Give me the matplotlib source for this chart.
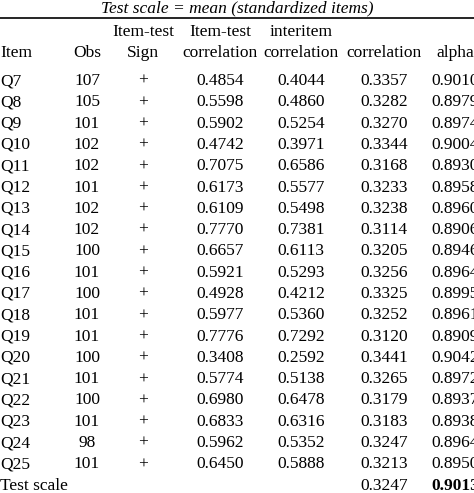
import matplotlib
matplotlib.use("Agg")
import matplotlib.pyplot as plt

items = ["Q7", "Q8", "Q9", "Q10", "Q11", "Q12", "Q13", "Q14", "Q15", "Q16",
         "Q17", "Q18", "Q19", "Q20", "Q21", "Q22", "Q23", "Q24", "Q25"]
obs = [107, 105, 101, 102, 102, 101, 102, 102, 100, 101,
       100, 101, 101, 100, 101, 100, 101, 98, 101]
signs = ["+"] * 19
item_test = ["0.4854", "0.5598", "0.5902", "0.4742", "0.7075", "0.6173", "0.6109", "0.7770", "0.6657", "0.5921",
             "0.4928", "0.5977", "0.7776", "0.3408", "0.5774", "0.6980", "0.6833", "0.5962", "0.6450"]
item_rest = ["0.4044", "0.4860", "0.5254", "0.3971", "0.6586", "0.5577", "0.5498", "0.7381", "0.6113", "0.5293",
             "0.4212", "0.5360", "0.7292", "0.2592", "0.5138", "0.6478", "0.6316", "0.5352", "0.5888"]
inter_corr = ["0.3357", "0.3282", "0.3270", "0.3344", "0.3168", "0.3233", "0.3238", "0.3114", "0.3205", "0.3256",
              "0.3325", "0.3252", "0.3120", "0.3441", "0.3265", "0.3179", "0.3183", "0.3247", "0.3213"]
alpha = ["0.9010", "0.8979", "0.8974", "0.9004", "0.8930", "0.8958", "0.8960", "0.8906", "0.8946", "0.8964",
         "0.8995", "0.8961", "0.8909", "0.9042", "0.8972", "0.8937", "0.8938", "0.8964", "0.8950"]
total_corr = "0.3247"
total_alpha = "0.9013"

W, H = 474, 493
fig = plt.figure(figsize=(W / 100, H / 100), dpi=100)
plt.rcParams["font.family"] = ["Liberation Serif", "DejaVu Serif"]
fs = 12.5

def put(x, y, s, ha="center", **kw):
    fig.text(x / W, 1 - y / H, s, ha=ha, va="center", fontsize=fs, **kw)

put(237, 8, "Test scale = mean (standardized items)", style="italic")
fig.add_artist(plt.Line2D([0, 1], [1 - 18 / H] * 2, color="black", lw=1.2))

cols = [87, 143, 220, 301, 384, 455]
put(143, 32, "Item-test")
put(220, 32, "Item-test")
put(301, 32, "interitem")
put(0, 53, "Item", ha="left")
for x, s in zip(cols, ["Obs", "Sign", "correlation", "correlation", "correlation", "alpha"]):
    put(x, 53, s)

for i in range(len(items)):
    y = 81 + i * 21.3
    put(0, y, items[i], ha="left")
    row = [str(obs[i]), signs[i], item_test[i], item_rest[i], inter_corr[i], alpha[i]]
    for x, s in zip(cols, row):
        put(x, y, s)

y = 81 + 19 * 21.3
put(0, y, "Test scale", ha="left")
put(384, y, total_corr)
put(455, y, total_alpha, weight="bold")

fig.savefig("out.png", dpi=100)
